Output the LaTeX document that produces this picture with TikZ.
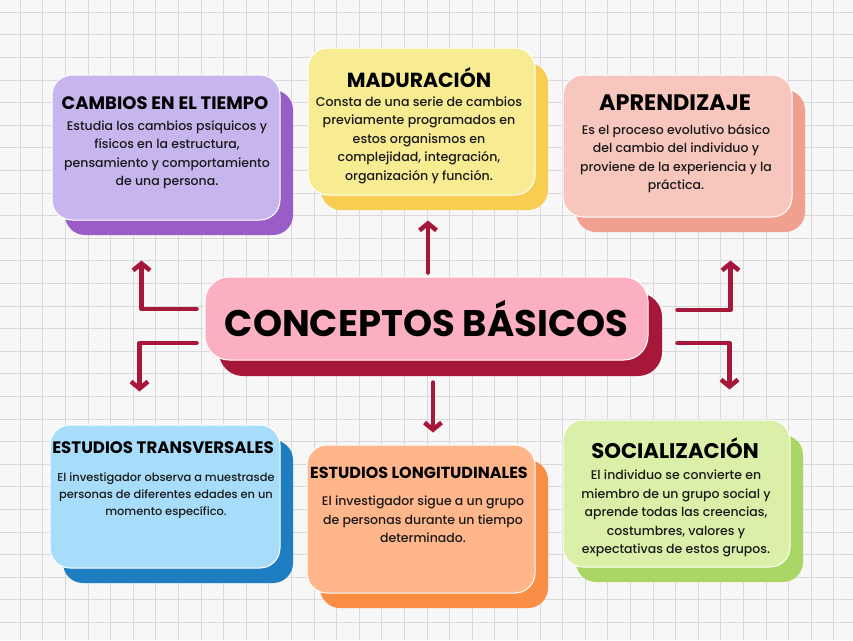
\documentclass[tikz,border=0pt]{standalone}
\usepackage{fontspec}
\setmainfont{Poppins}[UprightFont=* Medium, BoldFont=* Bold]
\usepackage{tikz}
\usetikzlibrary{calc}
\usetikzlibrary{shadows}
\usetikzlibrary{arrows.meta}
\definecolor{linkred}{HTML}{A6173A}
\definecolor{gridgray}{HTML}{D9D9D9}
\definecolor{pinkA}{HTML}{FBAFC1}
\definecolor{lilacA}{HTML}{C7B5EE}
\definecolor{lilacB}{HTML}{9A5CC6}
\definecolor{yellowA}{HTML}{F8EC93}
\definecolor{yellowB}{HTML}{F7CE52}
\definecolor{salmonA}{HTML}{F7C7BE}
\definecolor{salmonB}{HTML}{EFA08E}
\definecolor{blueA}{HTML}{A7DCFA}
\definecolor{blueB}{HTML}{1F7DC1}
\definecolor{orangeA}{HTML}{FFB68B}
\definecolor{orangeB}{HTML}{FA8E44}
\definecolor{greenA}{HTML}{DAF0A8}
\definecolor{greenB}{HTML}{A9D664}
\tikzset{
  card/.style={draw=white, line width=1pt, rounded corners=20pt, inner sep=0pt},
  cardhead/.style={font=\bfseries, text=black, inner sep=0pt},
  cardtext/.style={align=center, text=black!90, inner sep=0pt, font=\fontsize{12.5}{18.5}\selectfont},
  link/.style={draw=linkred, line width=4.5pt, line cap=round, line join=round, -{Straight Barb[length=7pt,width=17pt]}},
  gridline/.style={draw=gridgray, line width=0.6pt}
}
\newcommand{\conceptcard}[7]{ \node[card, fill=#6, general shadow={fill=#7, draw=none, shadow xshift=13pt, shadow yshift=-15pt}, minimum width=#4pt, minimum height=#5pt] (#1) at ( #2 , #3 ) {};}
\newcommand{\cardtitle}[5]{ \node[cardhead, font=\fontsize{#4}{#4}\bfseries\selectfont] (#1) at ( #2 , #3 ) {#5};}

\begin{document}
\begin{tikzpicture}[x=1pt, y=-1pt]
        % paper
        \useasboundingbox (0,0) rectangle (853,640);
        \fill[white!97!black] (0,0) rectangle (853,640);
        \foreach \x in {20,42.6,...,853} \draw[gridline] (\x,0) -- (\x,640);
        \foreach \y in {12,34.6,...,640} \draw[gridline] (0,\y) -- (853,\y);

        % cards
        \conceptcard{cambios}{166}{147.5}{228}{145}{lilacA}{lilacB}
        \conceptcard{maduracion}{421.5}{121.5}{227}{147}{yellowA}{yellowB}
        \conceptcard{aprendizaje}{677.5}{146}{229}{142}{salmonA}{salmonB}
        \conceptcard{transversales}{165}{496.5}{230}{143}{blueA}{blueB}
        \conceptcard{longitudinales}{421}{519}{228}{148}{orangeA}{orangeB}
        \conceptcard{socializacion}{676.5}{493.5}{227}{147}{greenA}{greenB}
        % centre
        \node[card, rounded corners=24pt, fill=pinkA, general shadow={fill=linkred, draw=none, shadow xshift=14pt, shadow yshift=-16pt}, minimum width=443pt, minimum height=83pt] (conceptos) at (426.5,318.5) {};
        \node[cardhead, font=\fontsize{37}{37}\bfseries\selectfont] (conceptosT) at (conceptos) {CONCEPTOS BÁSICOS};

        % titles
        \cardtitle{cambiosT}{165}{103}{18}{CAMBIOS EN EL TIEMPO}
        \cardtitle{maduracionT}{419}{78}{20.4}{MADURACIÓN}
        \cardtitle{aprendizajeT}{675}{103}{22.4}{APRENDIZAJE}
        \cardtitle{transversalesT}{163}{448}{16.6}{ESTUDIOS TRANSVERSALES}
        \cardtitle{longitudinalesT}{419}{473}{16}{ESTUDIOS LONGITUDINALES}
        \cardtitle{socializacionT}{675}{448}{21.2}{SOCIALIZACIÓN}

        % texts
        \node[cardtext] (cambiosB) at (167,154.5) {Estudia los cambios psíquicos y\\físicos en la estructura,\\pensamiento y comportamiento\\de una persona.};
        \node[cardtext, font=\fontsize{12.6}{18.5}\selectfont] (maduracionB) at (419,140) {Consta de una serie de cambios\\previamente programados en\\estos organismos en\\complejidad, integración,\\organización y función.};
        \node[cardtext] (aprendizajeB) at (676,158.5) {Es el proceso evolutivo básico\\del cambio del individuo y\\proviene de la experiencia y la\\práctica.};
        \node[cardtext, font=\fontsize{11.4}{17}\selectfont] (transversalesB) at (166,496) {El investigador observa a muestrasde\\personas de diferentes edades en un\\momento específico.};
        \node[cardtext] (longitudinalesB) at (423,519.5) {El investigador sigue a un grupo\\de personas durante un tiempo\\determinado.};
        \node[cardtext] (socializacionB) at (676,513.5) {El individuo se convierte en\\miembro de un grupo social y\\aprende todas las creencias,\\costumbres, valores y\\expectativas de estos grupos.};

        % arrows
        \coordinate (ulS) at ($(conceptos.west)+(-8,-9.5)$);
        \coordinate (ulE) at ($(cambios.south west)+(90,40)$);
        \coordinate (llS) at ($(conceptos.west)+(-8,24.5)$);
        \coordinate (llE) at ($(transversales.north west)+(90,-33)$);
        \coordinate (urS) at ($(conceptos.east)+(29,-8.5)$);
        \coordinate (urE) at ($(aprendizaje.south west)+(168,43)$);
        \coordinate (lrS) at ($(conceptos.east)+(29,24.5)$);
        \coordinate (lrE) at ($(socializacion.north west)+(167,-30)$);
        \coordinate (upS) at ($(conceptos.north)+(1.5,-4)$);
        \coordinate (upE) at ($(maduracion.south)+(6.5,25)$);
        \coordinate (dnS) at ($(conceptos.south)+(6.5,22)$);
        \coordinate (dnE) at ($(longitudinales.north)+(12,-12)$);
        \draw[link] (ulS) -| (ulE);
        \draw[link] (llS) -| (llE);
        \draw[link] (urS) -| (urE);
        \draw[link] (lrS) -| (lrE);
        \draw[link] (upS) -- (upE);
        \draw[link] (dnS) -- (dnE);
\end{tikzpicture}
\end{document}
